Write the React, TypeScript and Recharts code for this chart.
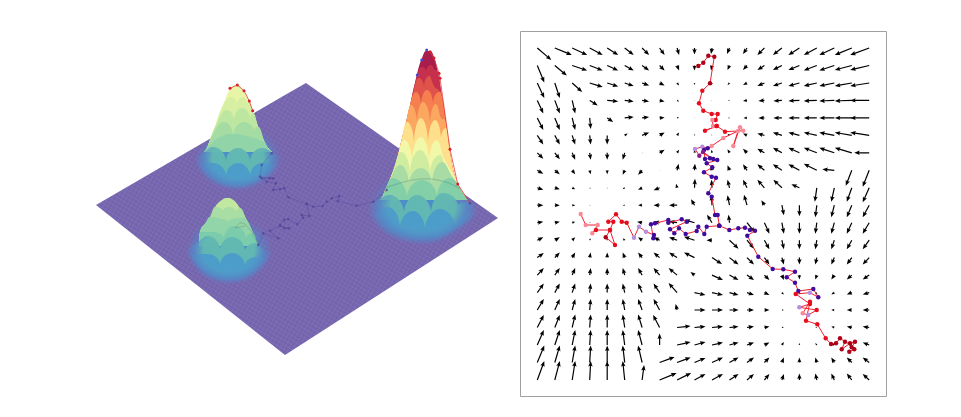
import React from 'react';
import { ComposedChart, ScatterChart, Area, Scatter, XAxis, YAxis, ReferenceArea } from 'recharts';

type P = [number, number];
type Row = { x: number; range: [number, number] };

// ---------- right panel: vector field ----------
const gridX = [537.3,554.8,572.2,589.7,607.2,624.7,642.1,659.6,677.1,694.5,712,729.5,747,764.4,781.9,799.4,816.8,834.3,851.8,869.2];
const gridY = [48,65.5,83,100.4,117.9,135.4,152.8,170.3,187.8,205.2,222.7,240.2,257.6,275.1,292.6,310,327.5,345,362.5,380];
const fieldU = [
  [14,17,15,13,11,9,7,5,2,0,-1,-2.5,-4,-7,-9,-11,-13,-15,-17,-19],
  [7,12,15,13,11,9,7,5,2,0,-1,-2,-4,-7,-9,-11,-13,-15,-17,-19],
  [7,5,10,13,11,9,7,5,2,0,-1,-2,-4,-7,-9,-11,-13,-15,-17,-19],
  [6,5,3,8,11,9,7,5,2,0.5,-0.5,-1.5,-4,-6,-8.5,-11,-13,-15,-17,-19],
  [6,5,3,1,6,9,7,5,2,0.5,-0.5,-1.5,-3.5,-6,-8.5,-11,-13,-15,-17,-19],
  [6,5,3,1,0,3,7,5,2,0.5,-0.5,-2,-4,-7,-9,-11,-13,-15,-17,-19],
  [6,5,3,1,0,-2,0.5,5,2,0.5,-0.5,-2,-4,-7,-9,-11,-13,-15,-17,-15],
  [6,5,3,1,0,-2,-4,0,1.5,0.5,-1,-2,-4,-7,-9,-11,-13,-12,-6,-6.5],
  [6,5,3,1,0,-2,-4,-6,-1,0.5,-0.5,-2,-4,-7,-8.5,-8,-2,-3,-5,-6.5],
  [6,5,3,1,0,-2,-4,-6,-8,-3.5,-0.5,-2,-3,-3,2,0,-1.5,-3,-5,-6.5],
  [6,5,3,1,0,-2,-5,-6,-8,-10,-5,-1,8,5,2,0,-1.5,-3,-5,-6.5],
  [6,5,3,1,0,-2,-4,-6,-8,-10.5,-5.5,9,7,5,2,0,-1.5,-3,-5,-6.5],
  [6.5,5,3,1,0,-2,-4,-6,-8,-10.5,10,9,7,5,2,0,-1.5,-3,-5,-6.5],
  [6.5,5,3,1,0,-2,-4,-6,-8.5,-4,11,9,7,5,2,0,-1.5,-3,-5,-6.5],
  [6.5,5,3,1,0,-2,-4,-6,-8.5,11,11,9,7,5,2,0,-1.5,-3,-5,-6.5],
  [6.5,5,3,1,0,-2,-4,-6,-1.5,11,11,9,7,5,2,0,-1.5,-3,-5,-6.5],
  [6.5,5,3,1,0,-2,-4,-6.5,13.5,11,11,9,7,5,2,0,-1.5,-3,-5,-6.5],
  [6.5,5,3,1,0,-2,-4,0,13.5,11,11,9,7,5,2,0,-1.5,-3,-5,-6.5],
  [7,5,3,1,0,-2,-4,15,13.5,11,11,9,7,5,2,0,-1.5,-3,-5,-6.5],
  [7,5,3,1,0,-2,2,17,14,11,11,9,7,5,2,0,-1.5,-3,-5,-6.5],
];
const fieldV = [
  [12,7,7,7,7,7,7,7,7,6.5,6,6,6,7,7,7,7,7,7,7],
  [17,10,5,5,5,5,5,5,5,5,5,4.5,4.5,4.5,4.5,4.5,5,5,4.5,4.5],
  [15,15,9,4,3.5,3,2.5,2.5,2.5,2,2,2,2,3,3,3,3,3,3,3],
  [13,13,13,5,1,1,1,1,1,0.5,0.5,0,0.5,0.5,0.5,0.5,0.5,0.5,0.5,0],
  [12,12,12,11,4,-1,-1,-0.5,-0.5,-0.5,0,0,0,0,0,0,0,0,0,0],
  [9,9,9,9,9,-2,-3,-3,-3,-1.5,-1,-1.5,-2,-2,-3,-3,-3,-3,-3,-3],
  [6,6.5,7,7,7,7,0.5,-3,-3,-3,-3,-3.5,-4,-4,-5,-5,-5,-5,-5,0],
  [3.5,4,4,4,4,4.5,4.5,0.5,-6.5,-6.5,-5,-5,-6,-6,-6,-6,-6.5,-1,15.5,16.5],
  [2,1.5,1.5,1,1,1.5,2,2.5,-4,-9,-8,-8,-8,-8,-8,-3.5,14,14,14,14.5],
  [0,0,0,0,0,0,0,0,0,-6,-10,-10,-10.5,-5,10,11,12,12,12,12],
  [-1,-1,-1,-0.5,-0.5,-1,-1,-1,-1.5,-3,-8,-8,10,11,11,11,11,11,11,11],
  [-3,-3,-3,-2,-2,-2,-3,-3,-3,-3.5,0,8.5,8.5,9,9,9,9,9,9,9],
  [-4.5,-5,-5,-5,-5,-5,-5,-5,-5,-5,6.5,7,7,7,7,7,7,7,7,7],
  [-7,-7,-7,-7,-7,-7,-7,-7,-7,-3,5,5,5,5,5,4.5,4.5,4.5,4.5,4.5],
  [-9,-9,-9,-9,-9,-9,-9,-9,-9.5,2.5,2.5,2.5,2.5,2.5,2,2,2,2,2,2],
  [-11,-11,-11,-11,-11,-11,-11,-11,-6,0,0,0,0,0,0,0,0,0,0,0],
  [-12.5,-12.5,-13,-13,-13,-13,-13,-12.5,-1.5,-1,-1,-1,-1,-1,-0.5,0,-0.5,-1,-1,-1],
  [-15,-15,-15,-15,-15,-15,-15,-11.5,-3,-3,-2.5,-2.5,-2.5,-2.5,-3,-2,-2,-2.5,-2.5,-2.5],
  [-17,-17,-17,-17,-17,-17,-17,-5.5,-5,-4.5,-5,-5,-5,-5,-5,-5,-5,-5,-5,-5],
  [-19,-19,-19,-19,-19,-19,-15,-7,-7,-6,-6,-6,-6,-6,-6,-6.5,-6.5,-6.5,-6.5,-6],
];
const arrows = gridY.flatMap((y, r) => gridX.map((x, c) => ({ x, y, u: fieldU[r][c], v: fieldV[r][c] })));

// trajectories: x, y, phase
type T = [number, number, number];
const pathTop: T[] = [[698.3,66,0],[703.3,62.7,0],[708.3,55.7,0],[714.3,56.7,0],[710,83.3,0],[702.3,90.7,1],[699,103.3,1],[703.3,110.7,1],[711.7,114,1],[717.7,114,1],[715.7,120,1],[712.3,120,2],[713,126,2],[716.7,126,1],[705,130.7,1],[716.7,126,1],[725,131.7,1],[743.3,130.7,2],[740,127.3,2],[733.3,146,2],[738,131,2],[723.3,138,2],[711.7,146,2],[707.7,148.3,3],[702.3,146.7,4],[695,149,4],[699.3,155.7,5],[704,150,3],[705,159,3],[710,158.3,3],[703,152,5],[713.3,159,3],[717.3,160,3],[706.7,163.3,3],[712.3,167.3,3],[704,172.3,3],[711.7,176.7,3],[716,177.7,3],[708.3,193.3,3],[711.7,196.7,3],[715,215,3],[717.7,215,3],[719.3,225.7,3]];
const pathLeft: T[] = [[719.3,225.7,3],[706.7,226.7,3],[704.3,234,3],[698.3,226.7,3],[696.7,231,3],[685.7,234,3],[679,228.3,3],[674.3,233.3,3],[670,229.3,3],[686.7,221.7,3],[681.7,219.3,3],[668.3,222.7,3],[668.3,220,3],[655,223.3,3],[651,224.3,3],[653.3,238.3,3],[654,235,3],[646,231.7,4],[639,226.7,4],[634,237.7,4],[626.7,222.7,1],[621.7,221.7,1],[616,214.3,1],[608.3,221.7,1],[613.3,221.7,1],[610,230,1],[615,245,1],[605.7,237.3,0],[610,230,1],[596,230,1],[592.3,233.3,2],[597.7,225,2],[585.7,225,2],[580.7,214,2]];
const pathRight: T[] = [[719.3,225.7,3],[729.3,230,3],[738.3,228.3,3],[745,227.7,3],[750,230,3],[755,230.7,3],[747.3,235.7,3],[758.3,256.7,3],[772.7,269,3],[783.3,269.3,3],[795,271.7,3],[786.7,277.3,3],[795,282.7,3],[798.3,291,3],[813.3,289,3],[818.3,297.3,3],[810,292.7,4],[795.7,294,1],[810,304,1],[799.3,307.3,4],[816.7,310,1],[808.3,315,4],[802.7,313.3,2],[810,301.7,1],[806,320.7,1],[817.3,324.3,1],[825.7,338.3,1],[831,344,0],[836,343.3,0],[840,338.3,0],[845,341.7,0],[841.7,349.3,0],[850,343.3,0],[855,341.7,0],[851.7,347.3,0],[854.3,349.3,0],[849.3,351.7,0]];
const phaseFill = ['#b00018', '#e60e1e', '#f78a96', '#3f0c9e', '#b58ee0', '#8a1b8a'];

// ---------- left panel: surface ----------
const planeX = [96, 285, 306, 498];
const planeTop = [205, 95, 83, 218];
const planeBottom = [205, 355, 341.5, 218];

type Band = { cut: P[]; from: number; to: number; fill: string };
const bigLeft: P[] = [[380,200],[383,196],[384,193],[388,184],[392,174],[396,163],[400,147],[405,127],[410,106],[415,83],[418,70],[422,58],[426,51]];
const bigRight: P[] = [[430,51],[434,57],[438,73],[442,97],[446,123],[450,153],[455,177],[460,188],[464,195],[468,200]];
const bigBands: Band[] = [
  { from: 10, to: 2, fill: '#c7304d', cut: [[422,67],[426,71],[431,65],[435,70]] },
  { from: 9, to: 3, fill: '#e0534a', cut: [[419,78],[424,87],[429,76],[434,86]] },
  { from: 8, to: 3, fill: '#f57f4f', cut: [[416,92],[421,104],[427,90],[433,103],[439,92]] },
  { from: 8, to: 4, fill: '#fba75f', cut: [[411,105],[417,122],[423,102],[430,122],[436,104],[441,118]] },
  { from: 7, to: 5, fill: '#fedf8b', cut: [[407,122],[414,142],[421,118],[428,142],[435,120],[441,138],[446,128]] },
  { from: 6, to: 6, fill: '#f1f8a8', cut: [[404,140],[412,160],[421,137],[429,160],[437,140],[444,158]] },
  { from: 5, to: 7, fill: '#d0eca0', cut: [[401,152],[410,172],[420,150],[430,172],[440,155],[447,172]] },
  { from: 4, to: 7, fill: '#a8dca4', cut: [[400,165],[409,183],[421,168],[432,183],[442,162],[452,176]] },
  { from: 2, to: 8, fill: '#82cfa8', cut: [[392,178],[407,196],[422,180],[437,196],[450,178]] },
];
const rows = (xs: number[], hi: number[], lo: number[]): Row[] => xs.map((x, i) => ({ x, range: [lo[i], hi[i]] }));

const bigTealX = [367,378,390,404,417,431,443,458,468,479];
const bigTealHi = [207,200,195,212,195,212,193,205,202,210];
const bigTealLo = [207,225,236,243,245,243,236,226,220,210];
const bigBlueX = [367,378,388,400,413,425,440,455,468,479];
const bigBlueHi = [212,214,207,226,211,228,209,226,214,212];
const bigBlueLo = [212,228,238,245,247,245,240,230,222,212];
const bigHaloX = [364,376,392,423,454,470,482];
const bigHaloHi = [207,190,176,168,195,201,211];
const bigHaloLo = [207,226,240,250,240,226,211];
const bigArcX = [386,405,425,445,460];
const bigArcHi = [187,181,178,181,188];
const bigArcLo = [188.5,182.5,179.5,182.5,189.5];

const topLeft: P[] = [[204,152],[207,148],[210.7,138],[215,127],[220,112],[225,100],[230,89]];
const topRight: P[] = [[236.7,85],[244,91.7],[249,101.7],[253.3,113],[258.3,127],[265,143],[268,148],[272,152]];
const topBands: Band[] = [
  { from: 5, to: 2, fill: '#d7efa2', cut: [[231,97],[237,104],[243,97],[247,103]] },
  { from: 4, to: 3, fill: '#bde6a0', cut: [[227,110],[234,120],[242,108],[250,118]] },
  { from: 3, to: 4, fill: '#a4dca4', cut: [[224,122],[233,135],[244,122],[254,131]] },
  { from: 2, to: 5, fill: '#90d4a8', cut: [[220,137],[234,134],[250,137]] },
];
const topTealX = [194,204,213,226,238,250,262,275,282];
const topTealHi = [158,152,147,160,148,160,148,154,158];
const topTealLo = [158,172,180,186,188,184,178,168,158];
const topBlueX = [194,204,213,226,238,250,262,275,282];
const topBlueHi = [162,164,163,175,163,175,163,166,162];
const topBlueLo = [162,176,184,190,191,188,180,172,162];
const topHaloX = [192,202,218,238,258,274,284];
const topHaloHi = [158,147,138,128,130,140,158];
const topHaloLo = [158,178,188,193,188,178,158];

const lowLeft: P[] = [[199,244],[200,232],[205,224],[210,217],[215,207],[221.7,200]];
const lowRight: P[] = [[227.3,198],[233.3,200],[240,208],[246.7,220],[253,233],[258,245],[260,246]];
const lowBands: Band[] = [
  { from: 5, to: 2, fill: '#a8dda4', cut: [[223,211],[229,207],[236,212]] },
  { from: 4, to: 3, fill: '#92d5a8', cut: [[218,218],[228,222],[240,218]] },
  { from: 2, to: 4, fill: '#7accac', cut: [[213,232],[224,238],[234,226],[246,238]] },
];
const lowTealX = [186,198,208,220,232,245,256,264,272];
const lowTealHi = [250,242,236,249,237,250,243,250,252];
const lowTealLo = [250,265,275,280,282,278,270,262,252];
const lowBlueX = [186,198,208,220,232,245,256,264,272];
const lowBlueHi = [254,254,254,264,253,265,257,258,254];
const lowBlueLo = [254,270,279,284,286,282,274,266,254];
const lowHaloX = [184,194,210,229,250,266,274];
const lowHaloHi = [250,230,220,215,220,230,250];
const lowHaloLo = [250,268,280,286,280,268,252];

const peakGlow: { id: string; cx: number; cy: number; rx: number; ry: number }[] = [
  { id: 'big', cx: 423, cy: 207, rx: 56, ry: 38 },
  { id: 'top', cx: 238, cy: 158, rx: 44, ry: 33 },
  { id: 'low', cx: 229, cy: 250, rx: 44, ry: 35 },
];

const surfTrailA: T[] = [[271.7,153.3,0],[261.7,165,0],[260,176.7,0],[270,178.3,0],[273.3,178.3,0],[261.7,178.3,0],[266.7,181.7,0],[276,183.3,0],[273.3,190,0],[280,189.3,0],[284.3,188.3,0],[288.3,197.3,0],[306.7,204,0],[313.3,206.7,0],[322.7,206,0],[326.7,201.7,0],[331.7,198.3,0],[339.3,196,0],[337.7,201,0],[356.7,205.7,0],[373.3,201.7,0],[386.7,190,0]];
const surfTrailB: T[] = [[306.7,204,0],[309.3,216,0],[301.7,215,0],[303.3,217.7,0],[297.3,224,0],[288.3,219,0],[284.3,220,0],[280,225,0],[284.3,228.3,0],[289,228.3,0],[280,226,0],[270,230.7,0],[278.3,238.3,0],[263.3,233.3,0],[258.3,245,0]];
const surfTrailC: T[] = [[258.3,245,0],[252,232,0],[245,224,0],[240,222.7,0],[235,228,0],[245,226,0]];
const crestTop: T[] = [[230,88.3,1],[237.3,85,1],[244,90.7,1],[249.3,101,1],[252.7,110.7,1]];
const crestBigRed: T[] = [[430,51.7,1],[434,58,1],[439,73.3,1],[440,78.3,1],[450,149.3,1],[457.7,184,1],[470,203.3,0]];
const crestBigBlue: T[] = [[426.7,50,2],[421.7,60,2],[417.3,75,2]];
const surfFill = ['#54449c', '#d81e2c', '#4a4ad0'];

// arch curve: rounded crests, sharp cusps
function archCurve(context: any) {
  let pts: P[] = [];
  let line = NaN;
  const tangent = (i: number, up: boolean): P => {
    const p = pts[i];
    const l = pts[i - 1] ?? p, r = pts[i + 1] ?? p;
    const crest = up ? p[1] <= l[1] && p[1] <= r[1] : p[1] >= l[1] && p[1] >= r[1];
    if (crest) return [1, 0];
    const dx = r[0] - l[0] || 1;
    return [1, (r[1] - l[1]) / dx];
  };
  return {
    areaStart() { line = 0; },
    areaEnd() { line = NaN; },
    lineStart() { pts = []; },
    point(x: number, y: number) { pts.push([+x, +y]); },
    lineEnd() {
      const up = line !== 1;
      pts.forEach((p, i) => {
        if (i === 0) {
          if (line === 1) context.lineTo(p[0], p[1]); else context.moveTo(p[0], p[1]);
          return;
        }
        const q = pts[i - 1];
        const dx = p[0] - q[0], dy = p[1] - q[1];
        const isCuspAt = (k: number) => {
          const c = pts[k], l = pts[k - 1], r = pts[k + 1];
          if (!l || !r) return false;
          return up ? c[1] > l[1] && c[1] > r[1] : c[1] < l[1] && c[1] < r[1];
        };
        const t0 = tangent(i - 1, up), t1 = tangent(i, up);
        const c1: P = isCuspAt(i - 1) ? [q[0] + dx * 0.08, q[1] + dy * 0.6] : [q[0] + dx * 0.45, q[1] + t0[1] * dx * 0.45];
        const c2: P = isCuspAt(i) ? [p[0] - dx * 0.08, p[1] - dy * 0.6] : [p[0] - dx * 0.45, p[1] - t1[1] * dx * 0.45];
        context.bezierCurveTo(c1[0], c1[1], c2[0], c2[1], p[0], p[1]);
      });
      if (line === 1 || (line !== 0 && pts.length === 1)) context.closePath();
      if (!isNaN(line)) line = 1 - line;
    },
  };
}

const silhouette = (l: P[], r: P[], b: Band, floor: number): Row[] =>
  [...l.slice(0, b.from), ...b.cut, ...r.slice(b.to)].map(([x, y]) => ({ x, range: [floor, y] as [number, number] }));
const full = (l: P[], r: P[], floor: number): Row[] => [...l, ...r].map(([x, y]) => ({ x, range: [floor, y] as [number, number] }));
const toPts = (t: T[]) => t.map(([x, y, k]) => ({ x, y, k }));

const ArrowMark = (p: any) => {
  const { cx, cy, payload } = p;
  const { u, v } = payload;
  const len = Math.hypot(u, v);
  if (len < 0.1) return null;
  const ax = u / len, ay = v / len;
  const nx = -ay, ny = ax;
  const s = Math.min(1, len / 5.5);
  const hl = 5.5 * s, hw = 2.2 * s, sw = 0.6 * s, hb = 4.8 * s;
  const q = (a: number, b: number) => `${(cx + ax * a + nx * b).toFixed(2)},${(cy + ay * a + ny * b).toFixed(2)}`;
  const e = Math.max(len, hl);
  return <polygon fill="#000" points={[q(0, sw), q(e - hb, sw), q(e - hl, hw), q(e, 0), q(e - hl, -hw), q(e - hb, -sw), q(0, -sw)].join(' ')} />;
};
const PathDot = (p: any) => <circle cx={p.cx} cy={p.cy} r={2.2} fill={phaseFill[p.payload.k]} />;
const SurfDot = (p: any) => <circle cx={p.cx} cy={p.cy} r={p.payload.k === 0 ? 1.2 : 1.5} fill={surfFill[p.payload.k]} fillOpacity={p.payload.k === 0 ? 0.85 : 1} />;

const a = (key: string, data: Row[], fill: string, extra: any = {}) => (
  <Area key={key} data={data} dataKey="range" type={archCurve as any} fill={fill} fillOpacity={1} stroke="none" dot={false} activeDot={false} isAnimationActive={false} {...extra} />
);

const Glow = ({ id, color, cx, cy, rx, ry, edge }: any) => (
  <radialGradient id={id} gradientUnits="userSpaceOnUse" cx={0} cy={0} r={1} gradientTransform={`translate(${cx} ${cy}) scale(${rx} ${ry})`}>
    <stop offset="0%" stopColor={color} stopOpacity={1} />
    <stop offset={`${edge}%`} stopColor={color} stopOpacity={0.95} />
    <stop offset={`${(edge + 100) / 2}%`} stopColor="#4f8fca" stopOpacity={0.55} />
    <stop offset="100%" stopColor="#5f7cc0" stopOpacity={0} />
  </radialGradient>
);

export default function App() {
  const planeRows: Row[] = planeX.map((x, i) => ({ x, range: [planeBottom[i], planeTop[i]] }));
  return (
    <div style={{ position: 'absolute', left: 0, top: 0, width: 961, height: 417, background: '#fff', overflow: 'hidden' }}>
      <div style={{ position: 'absolute', left: 0, top: 0 }}>
        <ComposedChart width={510} height={417} margin={{ top: 0, right: 0, bottom: 0, left: 0 }}>
          <defs>
            <pattern id="mesh" width="4" height="4" patternUnits="userSpaceOnUse" patternTransform="rotate(30)">
              <path d="M0 0H4M0 0V4" stroke="#ffffff" strokeOpacity="0.13" strokeWidth="0.8" />
            </pattern>
            {peakGlow.map((g) => (
              <React.Fragment key={g.id}>
                <Glow id={g.id + 'H'} color="#4c8fca" cx={g.cx} cy={g.cy} rx={g.rx} ry={g.ry} edge={50} />
                <Glow id={g.id + 'T'} color="#62b8b2" cx={g.cx} cy={g.cy} rx={g.rx} ry={g.ry} edge={58} />
                <Glow id={g.id + 'B'} color="#4c9ccb" cx={g.cx} cy={g.cy} rx={g.rx} ry={g.ry} edge={58} />
              </React.Fragment>
            ))}
          </defs>
          <XAxis type="number" dataKey="x" domain={[0, 510]} hide />
          <YAxis type="number" dataKey="y" domain={[0, 417]} reversed hide width={0} />
          {a('plane', planeRows, '#7464ae', { type: 'linear' })}
          {a('planeMesh', planeRows, 'url(#mesh)', { type: 'linear' })}

          {a('bigHalo', rows(bigHaloX, bigHaloHi, bigHaloLo), 'url(#bigH)', { type: 'monotone' })}
          {a('bigFull', full(bigLeft, bigRight, 200), '#a81d4d')}
          {bigBands.map((b, i) => a('big' + i, silhouette(bigLeft, bigRight, b, 200), b.fill))}
          {a('bigTeal', rows(bigTealX, bigTealHi, bigTealLo), 'url(#bigT)')}
          {a('bigBlue', rows(bigBlueX, bigBlueHi, bigBlueLo), 'url(#bigB)')}
          {a('bigArc', rows(bigArcX, bigArcHi, bigArcLo), '#3f6f70', { fillOpacity: 0.22, type: 'monotone' })}

          {a('topHalo', rows(topHaloX, topHaloHi, topHaloLo), 'url(#topH)', { type: 'monotone' })}
          {a('topFull', full(topLeft, topRight, 152), '#e9f5a6')}
          {topBands.map((b, i) => a('top' + i, silhouette(topLeft, topRight, b, 152), b.fill))}
          {a('topTeal', rows(topTealX, topTealHi, topTealLo), 'url(#topT)')}
          {a('topBlue', rows(topBlueX, topBlueHi, topBlueLo), 'url(#topB)')}

          {a('lowHalo', rows(lowHaloX, lowHaloHi, lowHaloLo), 'url(#lowH)', { type: 'monotone' })}
          {a('lowFull', full(lowLeft, lowRight, 246), '#c2e7a0')}
          {lowBands.map((b, i) => a('low' + i, silhouette(lowLeft, lowRight, b, 246), b.fill))}
          {a('lowTeal', rows(lowTealX, lowTealHi, lowTealLo), 'url(#lowT)')}
          {a('lowBlue', rows(lowBlueX, lowBlueHi, lowBlueLo), 'url(#lowB)')}

          <Scatter data={toPts(surfTrailA)} line={{ stroke: '#4a3a8e', strokeWidth: 0.5, strokeOpacity: 0.6 }} shape={SurfDot} isAnimationActive={false} />
          <Scatter data={toPts(surfTrailB)} line={{ stroke: '#4a3a8e', strokeWidth: 0.5, strokeOpacity: 0.6 }} shape={SurfDot} isAnimationActive={false} />
          <Scatter data={toPts(surfTrailC)} line={{ stroke: '#6a6a50', strokeWidth: 0.5, strokeOpacity: 0.6 }} shape={() => null} isAnimationActive={false} />
          <Scatter data={toPts(crestTop)} line={{ stroke: '#e23a3a', strokeWidth: 0.8 }} shape={SurfDot} isAnimationActive={false} />
          <Scatter data={toPts(crestBigRed)} line={{ stroke: '#e23a3a', strokeWidth: 0.8 }} shape={SurfDot} isAnimationActive={false} />
          <Scatter data={toPts(crestBigBlue)} shape={SurfDot} isAnimationActive={false} />
        </ComposedChart>
      </div>
      <div style={{ position: 'absolute', left: 520, top: 31 }}>
        <ScatterChart width={367} height={366} margin={{ top: 0, right: 0, bottom: 0, left: 0 }}>
          <XAxis type="number" dataKey="x" domain={[520, 887]} hide />
          <YAxis type="number" dataKey="y" domain={[31, 397]} reversed hide width={0} />
          <ReferenceArea x1={520.5} x2={886.5} y1={31.5} y2={396.5} fill="none" stroke="#a0a0a0" strokeWidth={1} />
          <Scatter data={arrows} shape={ArrowMark} isAnimationActive={false} />
          <Scatter data={toPts(pathTop)} line={{ stroke: '#f0202e', strokeWidth: 1 }} shape={PathDot} isAnimationActive={false} />
          <Scatter data={toPts(pathLeft)} line={{ stroke: '#f0202e', strokeWidth: 1 }} shape={PathDot} isAnimationActive={false} />
          <Scatter data={toPts(pathRight)} line={{ stroke: '#f0202e', strokeWidth: 1 }} shape={PathDot} isAnimationActive={false} />
        </ScatterChart>
      </div>
    </div>
  );
}
